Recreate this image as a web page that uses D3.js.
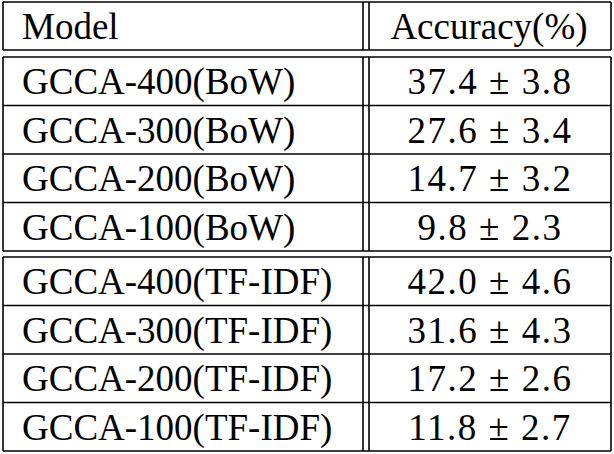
<!DOCTYPE html>
<html><head><meta charset="utf-8">
<script src="https://cdn.jsdelivr.net/npm/d3@7"></script>
<style>body{margin:0;background:#fff} text{font-family:"Liberation Serif","DejaVu Serif",serif}</style></head>
<body><div id="app"></div>
<script>
const header = ["Model", "Accuracy(%)"]
const groupBoW = ["GCCA-400(BoW)", "GCCA-300(BoW)", "GCCA-200(BoW)", "GCCA-100(BoW)"]
const meanBoW = [37.4, 27.6, 14.7, 9.8]
const stdBoW = [3.8, 3.4, 3.2, 2.3]
const groupTF = ["GCCA-400(TF-IDF)", "GCCA-300(TF-IDF)", "GCCA-200(TF-IDF)", "GCCA-100(TF-IDF)"]
const meanTF = [42.0, 31.6, 17.2, 11.8]
const stdTF = [4.6, 4.3, 2.6, 2.7]

const width = 614, height = 454
const left = 3, right = 611, split = 363
const rowH = 48.5

const svg = d3.select('#app').append('svg').attr('width', width).attr('height', height)

const groups = [
  {top: 57, names: groupBoW, means: meanBoW, stds: stdBoW},
  {top: 257, names: groupTF, means: meanTF, stds: stdTF}
]

const line = (x1, y1, x2, y2) => svg.append('line')
  .attr('x1', x1).attr('y1', y1).attr('x2', x2).attr('y2', y2)
  .attr('stroke', '#000').attr('stroke-width', 1.6)

line(left, 2, right, 2); line(left, 50, right, 50)
line(left, 2, left, 50); line(right, 2, right, 50)
line(split, 2, split, 50); line(split + 6, 2, split + 6, 50)
const txt = (x, y, s, anchor, spacing) => svg.append('text').attr('x', x).attr('y', y + 13)
  .attr('text-anchor', anchor).attr('font-size', 37)
  .attr('letter-spacing', spacing || 0).text(s)
txt(22, 26, header[0], 'start')
txt(489, 26, header[1], 'middle')

groups.forEach(g => {
  const y = d3.scaleLinear().domain([0, g.names.length]).range([g.top, g.top + rowH * g.names.length])
  d3.range(g.names.length + 1).forEach(i => line(left, y(i), right, y(i)))
  const bottom = y(g.names.length)
  line(left, g.top, left, bottom); line(right, g.top, right, bottom)
  line(split, g.top, split, bottom); line(split + 6, g.top, split + 6, bottom)
  g.names.forEach((n, i) => {
    txt(22, y(i + 0.5), n, 'start')
    txt(490, y(i + 0.5), `${g.means[i].toFixed(1)} ± ${g.stds[i].toFixed(1)}`, 'middle', 1.5)
  })
})
</script></body></html>
